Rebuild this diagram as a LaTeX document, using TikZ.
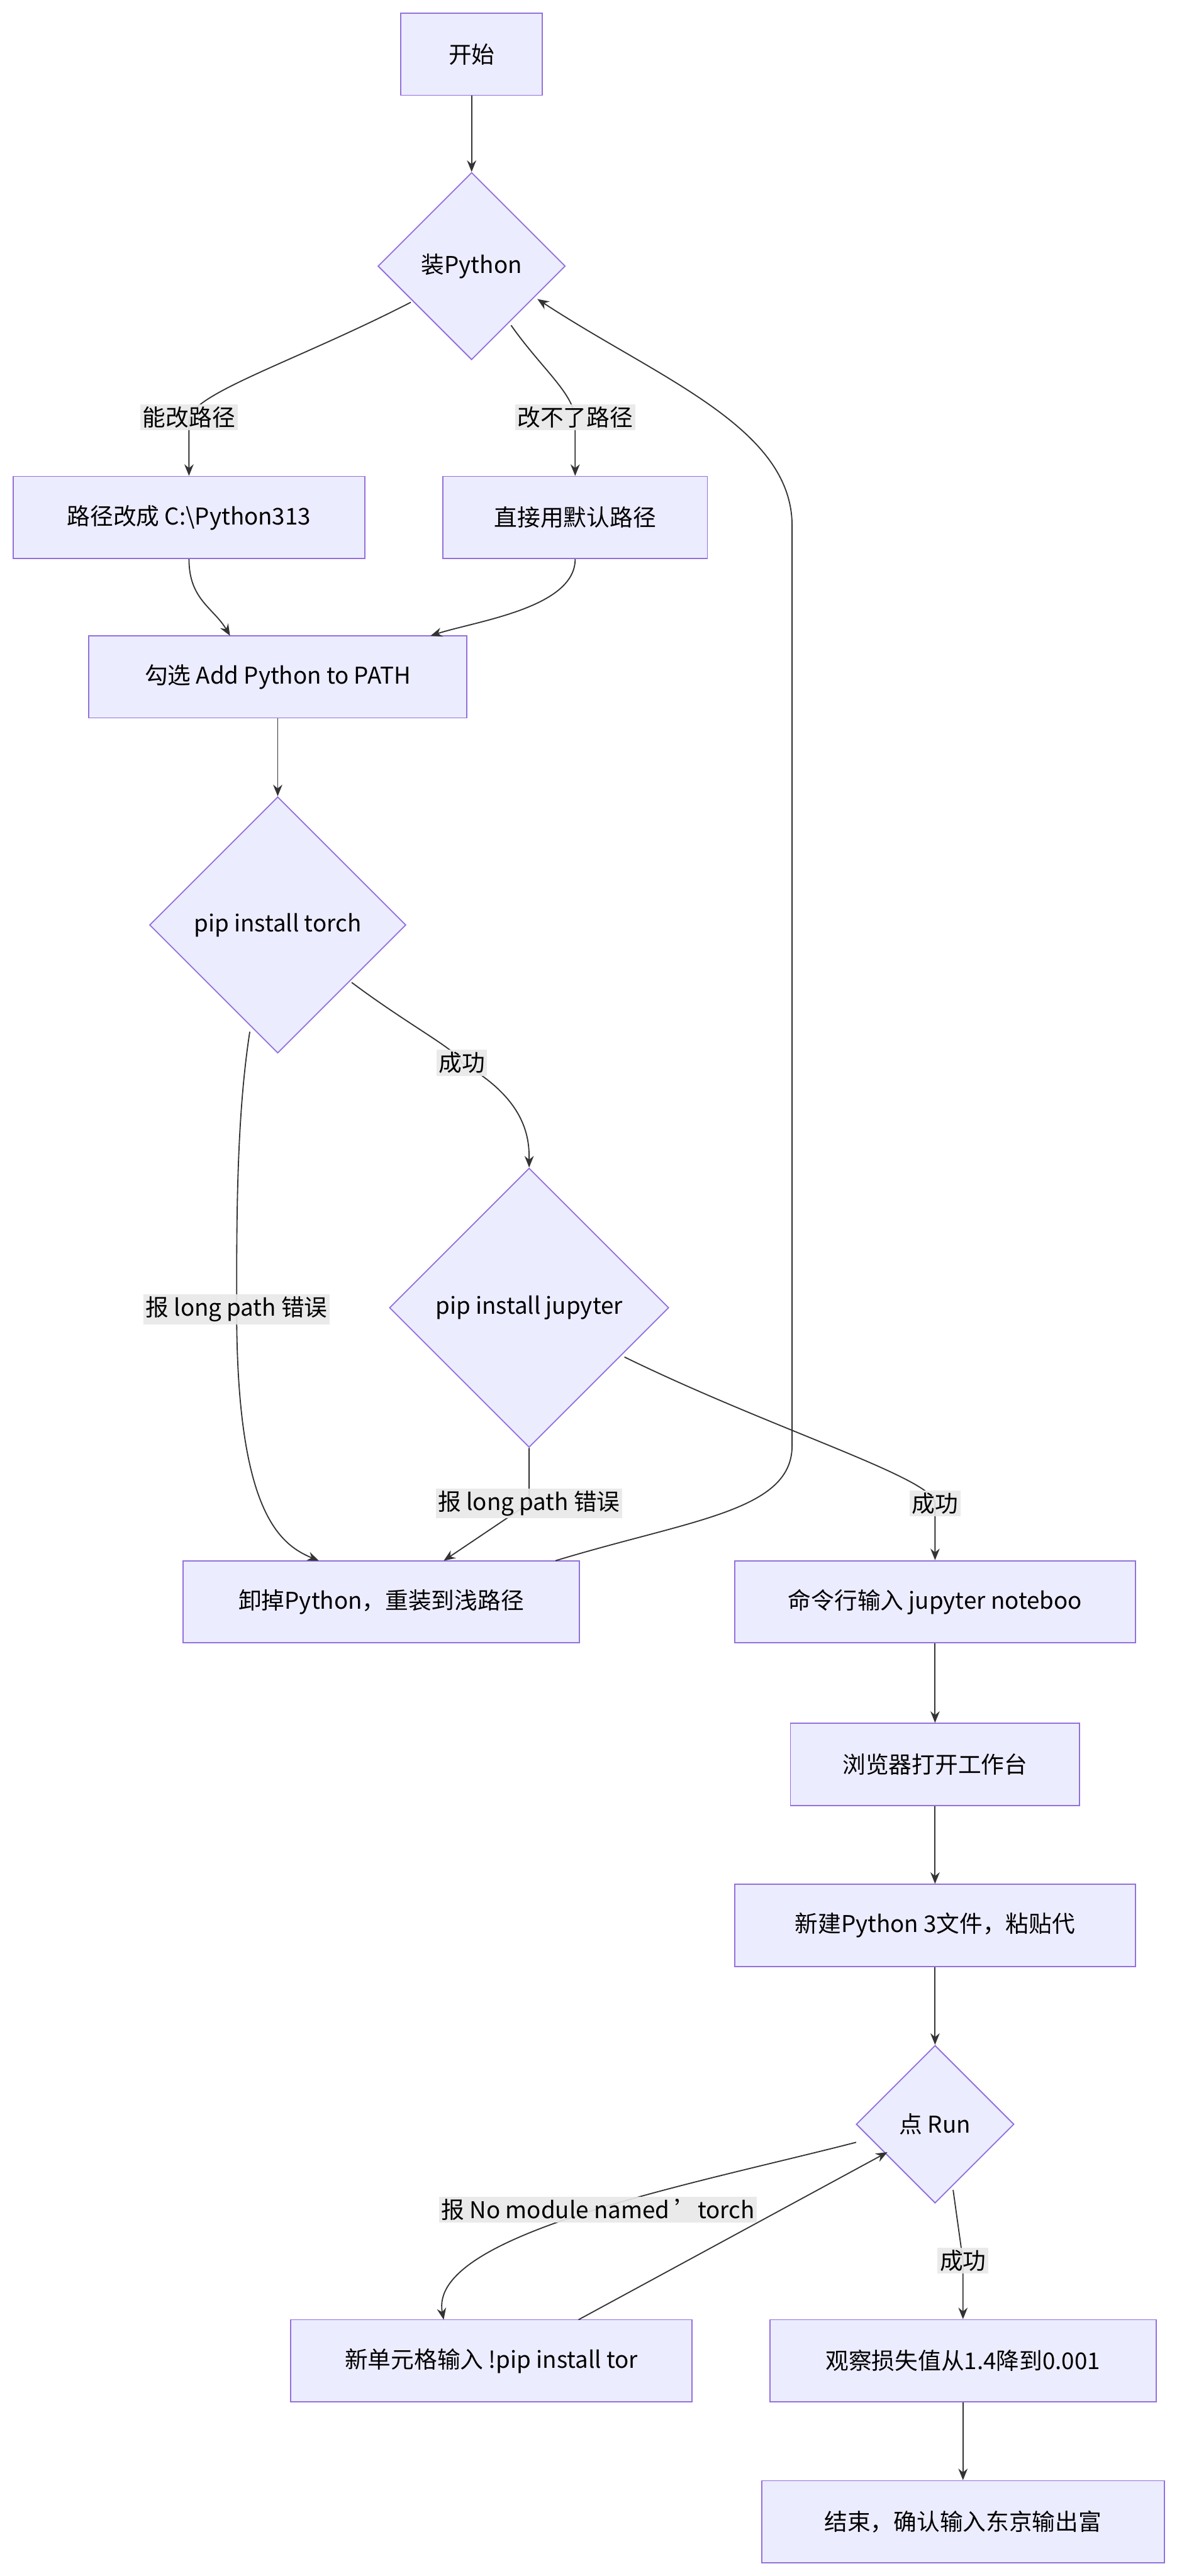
\documentclass[tikz,border=0pt]{standalone}
\usepackage{fontspec}
\setmainfont{Noto Sans CJK SC}
\usetikzlibrary{shapes.geometric,arrows.meta}
\definecolor{nfill}{HTML}{ECECFF}
\definecolor{nline}{HTML}{9370DB}
\definecolor{eline}{HTML}{333333}
\definecolor{lbg}{HTML}{E8E8E8}
\begin{document}
\begin{tikzpicture}[x=0.05cm,y=-0.05cm,
  every node/.style={font=\fontsize{20}{24}\selectfont},
  box/.style={draw=nline,fill=nfill,line width=1pt,minimum height=2.5cm,inner sep=0pt},
  dia/.style={draw=nline,fill=nfill,line width=1pt,diamond,inner sep=0pt},
  lab/.style={fill=lbg,fill opacity=0.9,text opacity=1,inner sep=2pt},
  arr/.style={draw=eline,line width=1pt,-{Stealth[length=10pt,width=8pt]}}]
\useasboundingbox (0,0) rectangle (716,1568);
\node[box,minimum width=4.3cm] (start) at (287,33) {开始};
\node[dia,minimum width=5.7cm,minimum height=5.7cm] (py) at (287,162) {装Python};
\node[box,minimum width=10.7cm] (p1) at (115,315) {路径改成 C:\textbackslash Python313};
\node[box,minimum width=8.05cm] (p2) at (350,315) {直接用默认路径};
\node[box,minimum width=11.5cm] (add) at (169,412) {勾选 Add Python to PATH};
\node[dia,minimum width=7.8cm,minimum height=7.8cm] (torch) at (169,563) {pip install torch};
\node[dia,minimum width=8.5cm,minimum height=8.5cm] (jup) at (322,796) {pip install jupyter};
\node[box,minimum width=12.05cm] (un) at (232,975) {卸掉Python，重装到浅路径};
\node[box,minimum width=12.2cm] (cmd) at (569,975) {命令行输入 jupyter noteboo};
\node[box,minimum width=8.8cm] (br) at (569,1074) {浏览器打开工作台};
\node[box,minimum width=12.2cm] (new) at (569,1172) {新建Python 3文件，粘贴代};
\node[dia,minimum width=4.8cm,minimum height=4.8cm] (run) at (569,1293) {点 Run};
\node[box,minimum width=12.2cm] (cell) at (299,1437) {新单元格输入 !pip install tor};
\node[box,minimum width=11.75cm] (obs) at (586,1437) {观察损失值从1.4降到0.001};
\node[box,minimum width=12.25cm] (end) at (586,1535) {结束，确认输入东京输出富};

\coordinate (c1) at (250,184);
\coordinate (c2) at (311,198);
\coordinate (c3) at (152,628);
\coordinate (c4) at (214,598);
\coordinate (c5) at (380,826);
\coordinate (c6) at (338,950);
\coordinate (c7) at (521,1304);
\coordinate (c8) at (580,1333);
\coordinate (c9) at (352,1412);

\draw[arr] (start) -- (py);
\draw[arr] (c1) .. controls (180,220) and (115,240) .. (115,256) -- (p1.north);
\draw[arr] (c2) .. controls (330,225) and (350,240) .. (350,256) -- (p2.north);
\draw[arr] (p1.south) .. controls (115,365) and (130,370) .. (140,387);
\draw[arr] (p2.south) .. controls (350,370) and (290,378) .. (262,387);
\draw[arr] (add) -- (torch);
\draw[arr] (c4) .. controls (250,625) and (280,640) .. (281,647) .. controls (322,670) and (322,695) .. (jup.north);
\draw[arr] (c3) .. controls (144,680) and (144,740) .. (144,797) .. controls (144,920) and (170,940) .. (194,950);
\draw[arr] (jup.south) -- (322,915) -- (270,950);
\draw[arr] (c5) .. controls (470,870) and (569,900) .. (569,915) -- (cmd.north);
\draw[arr] (c6) .. controls (420,925) and (482,920) .. (482,880) -- (482,320) .. controls (482,260) and (400,230) .. (327,182);
\draw[arr] (cmd) -- (br);
\draw[arr] (br) -- (new);
\draw[arr] (new) -- (run);
\draw[arr] (c7) .. controls (420,1330) and (260,1360) .. (270,1412);
\draw[arr] (c9) -- (540,1310);
\draw[arr] (c8) -- (586,1376) -- (obs.north);
\draw[arr] (obs) -- (end);

\node[lab] (l1) at (115,254) {能改路径};
\node[lab] (l2) at (350,254) {改不了路径};
\node[lab] (l3) at (281,647) {成功};
\node[lab] (l4) at (144,797) {报 long path 错误};
\node[lab] (l5) at (322,915) {报 long path 错误};
\node[lab] (l6) at (569,915) {成功};
\node[lab] (l7) at (364,1345) {报 No module named 'torch};
\node[lab] (l8) at (586,1376) {成功};
\end{tikzpicture}
\end{document}
